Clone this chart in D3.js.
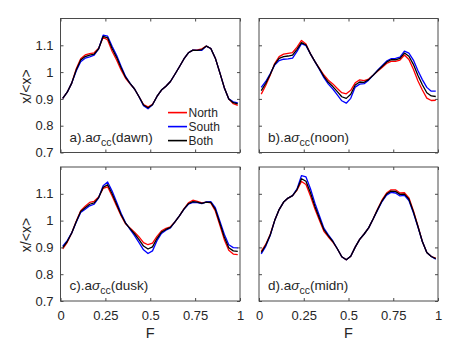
<!DOCTYPE html>
<html><head><meta charset="utf-8">
<script src="https://cdn.jsdelivr.net/npm/d3@7"></script>
<style>
html,body{margin:0;padding:0;background:#fff;}
svg text{font-family:"Liberation Sans",Arial,sans-serif;fill:#262626;}
</style></head>
<body><svg id="c" width="474" height="356"></svg>
<script>
const F = [0.0125,0.0375,0.0625,0.0875,0.1125,0.1375,0.1625,0.1875,0.2125,0.2375,
0.2625,0.2875,0.3125,0.3375,0.3625,0.3875,0.4125,0.4375,0.4625,0.4875,
0.5125,0.5375,0.5625,0.5875,0.6125,0.6375,0.6625,0.6875,0.7125,0.7375,
0.7625,0.7875,0.8125,0.8375,0.8625,0.8875,0.9125,0.9375,0.9625,0.9875];

const panelLabels = ["a).a","b).a","c).a","d).a"];
const panelTimes = ["(dawn)","(noon)","(dusk)","(midn)"];
const seriesNames = ["North","South","Both"];
const xTicks = [0,0.25,0.5,0.75,1];
const xTickLabels = ["0","0.25","0.5","0.75","1"];
const yTicks = [0.7,0.8,0.9,1.0,1.1];
const yTickLabels = ["0.7","0.8","0.9","1","1.1"];

const northA = [0.902,0.925,0.959,1.012,1.050,1.064,1.069,1.072,1.089,1.130,1.120,1.078,1.045,1.008,0.977,0.956,0.937,0.908,0.879,0.870,0.880,0.909,0.933,0.947,0.965,0.992,1.020,1.049,1.072,1.082,1.083,1.087,1.097,1.088,1.052,0.998,0.942,0.900,0.882,0.876];
const southA = [0.902,0.925,0.959,1.004,1.039,1.052,1.057,1.063,1.087,1.138,1.134,1.096,1.063,1.022,0.984,0.958,0.937,0.908,0.875,0.863,0.878,0.909,0.933,0.947,0.965,0.992,1.020,1.049,1.072,1.082,1.081,1.081,1.097,1.088,1.052,0.998,0.942,0.900,0.889,0.885];
const bothA  = [0.902,0.925,0.959,1.008,1.045,1.058,1.063,1.067,1.087,1.133,1.128,1.088,1.055,1.016,0.981,0.958,0.937,0.908,0.877,0.867,0.878,0.909,0.933,0.947,0.965,0.992,1.020,1.049,1.072,1.082,1.081,1.084,1.097,1.088,1.052,0.998,0.942,0.900,0.886,0.881];

const northB = [0.918,0.950,0.988,1.032,1.058,1.067,1.070,1.073,1.093,1.118,1.105,1.068,1.039,1.014,0.989,0.970,0.956,0.939,0.923,0.919,0.932,0.960,0.971,0.968,0.974,0.988,1.003,1.017,1.032,1.040,1.040,1.045,1.064,1.047,1.011,0.968,0.933,0.903,0.894,0.895];
const southB = [0.943,0.965,0.994,1.026,1.043,1.048,1.049,1.052,1.077,1.106,1.099,1.068,1.039,1.010,0.979,0.955,0.937,0.915,0.893,0.884,0.902,0.944,0.955,0.957,0.970,0.988,1.007,1.024,1.041,1.050,1.051,1.056,1.078,1.071,1.045,1.006,0.972,0.943,0.929,0.929];
const bothB  = [0.931,0.958,0.991,1.029,1.051,1.058,1.060,1.063,1.085,1.110,1.101,1.068,1.039,1.012,0.984,0.962,0.946,0.927,0.908,0.902,0.917,0.952,0.963,0.962,0.972,0.988,1.005,1.021,1.037,1.046,1.046,1.051,1.071,1.059,1.029,0.988,0.953,0.923,0.911,0.909];

const northC = [0.894,0.919,0.954,0.998,1.037,1.054,1.068,1.072,1.088,1.120,1.126,1.092,1.055,1.018,0.988,0.972,0.957,0.939,0.918,0.910,0.916,0.941,0.962,0.971,0.977,0.995,1.018,1.044,1.066,1.076,1.072,1.066,1.069,1.066,1.036,0.983,0.929,0.889,0.875,0.873];
const southC = [0.905,0.925,0.954,0.994,1.030,1.042,1.055,1.061,1.085,1.130,1.144,1.110,1.069,1.027,0.992,0.967,0.944,0.918,0.891,0.877,0.887,0.925,0.952,0.964,0.973,0.995,1.018,1.042,1.061,1.068,1.067,1.063,1.070,1.071,1.048,0.999,0.949,0.910,0.899,0.898];
const bothC  = [0.899,0.922,0.954,0.996,1.034,1.048,1.061,1.066,1.086,1.124,1.134,1.100,1.061,1.022,0.990,0.970,0.951,0.929,0.905,0.894,0.902,0.933,0.957,0.967,0.975,0.995,1.018,1.043,1.063,1.071,1.069,1.064,1.069,1.068,1.042,0.991,0.939,0.899,0.887,0.885];

const northD = [0.885,0.911,0.948,1.000,1.041,1.069,1.084,1.093,1.114,1.146,1.135,1.092,1.043,1.001,0.960,0.939,0.920,0.895,0.865,0.854,0.867,0.901,0.930,0.950,0.973,1.006,1.043,1.077,1.103,1.115,1.115,1.103,1.104,1.085,1.037,0.981,0.922,0.881,0.866,0.860];
const southD = [0.876,0.904,0.944,1.000,1.041,1.069,1.084,1.093,1.118,1.168,1.163,1.119,1.065,1.018,0.972,0.947,0.924,0.895,0.865,0.854,0.867,0.901,0.930,0.950,0.973,1.006,1.039,1.071,1.095,1.105,1.103,1.092,1.094,1.075,1.029,0.977,0.922,0.881,0.866,0.856];
const bothD  = [0.881,0.908,0.946,1.000,1.041,1.069,1.084,1.093,1.116,1.156,1.147,1.104,1.053,1.009,0.966,0.943,0.922,0.895,0.865,0.854,0.867,0.901,0.930,0.950,0.973,1.006,1.041,1.074,1.099,1.110,1.109,1.098,1.099,1.080,1.033,0.979,0.922,0.881,0.866,0.858];

const panelData = [
  [northA, southA, bothA],
  [northB, southB, bothB],
  [northC, southC, bothC],
  [northD, southD, bothD]
];

const colors = ["#ff0000","#0000ff","#000000"];
const svg = d3.select("#c");
const boxes = [
  {l:60.5, r:240, t:18.5, b:152.5, col:0, row:0},
  {l:259, r:438, t:18.5, b:152.5, col:1, row:0},
  {l:60.5, r:240, t:167, b:301, col:0, row:1},
  {l:259, r:438, t:167, b:301, col:1, row:1}
];
const axisCol = "#4a4a4a";

boxes.forEach((bx, i) => {
  const x = d3.scaleLinear().domain([0,1]).range([bx.l, bx.r]);
  const y = d3.scaleLinear().domain([0.7,1.2]).range([bx.b, bx.t]);
  const g = svg.append("g");

  g.append("clipPath").attr("id","clip"+i).append("rect")
    .attr("x",bx.l).attr("y",bx.t).attr("width",bx.r-bx.l).attr("height",bx.b-bx.t);

  const line = d3.line().x((d,j)=>x(F[j])).y(d=>y(d));
  const lg = g.append("g").attr("clip-path","url(#clip"+i+")");
  panelData[i].forEach((s, k) => {
    lg.append("path").datum(s).attr("d", line)
      .attr("fill","none").attr("stroke", colors[k]).attr("stroke-width",1.3)
      .attr("stroke-linejoin","round");
  });

  const bottom = d3.axisBottom(x).tickValues(xTicks).tickSize(-3).tickSizeOuter(0).tickPadding(10)
    .tickFormat((d,j)=> bx.row===1 ? xTickLabels[j] : "");
  const top = d3.axisTop(x).tickValues(xTicks).tickSize(-3).tickSizeOuter(0).tickFormat("");
  const left = d3.axisLeft(y).tickValues(yTicks).tickSize(-3).tickSizeOuter(0).tickPadding(7)
    .tickFormat((d,j)=> bx.col===0 ? yTickLabels[j] : "");
  const right = d3.axisRight(y).tickValues(yTicks).tickSize(-3).tickSizeOuter(0).tickFormat("");

  [[bottom,`translate(0,${bx.b})`],[top,`translate(0,${bx.t})`],[left,`translate(${bx.l},0)`],[right,`translate(${bx.r},0)`]]
    .forEach(([ax,tr]) => {
      const a = g.append("g").attr("transform",tr).call(ax);
      a.select(".domain").remove();
      a.selectAll("line").attr("stroke",axisCol);
      a.selectAll("text").attr("font-size","13px").attr("fill","#262626")
        .attr("font-family","Liberation Sans, Arial, sans-serif");
    });

  g.append("rect").attr("x",bx.l).attr("y",bx.t).attr("width",bx.r-bx.l).attr("height",bx.b-bx.t)
    .attr("fill","none").attr("stroke",axisCol).attr("stroke-width",1);

  const t = g.append("text").attr("x", bx.l + 9).attr("y", bx.b - 11).attr("font-size","13.5px");
  t.append("tspan").text(panelLabels[i]);
  t.append("tspan").attr("font-style","italic").text("σ");
  t.append("tspan").attr("font-size","10.5px").attr("dy","4").text("cc");
  t.append("tspan").attr("dy","-4").text(panelTimes[i]);

  if (bx.col===0) {
    g.append("text").attr("transform",`translate(31,${(bx.t+bx.b)/2+1}) rotate(-90)`)
      .attr("text-anchor","middle").attr("font-size","14px").text("x/<x>");
  }
  if (bx.row===1) {
    g.append("text").attr("x",(bx.l+bx.r)/2).attr("y",338).attr("text-anchor","middle")
      .attr("font-size","14.5px").text("F");
  }
  if (i===0) {
    const leg = g.append("g");
    seriesNames.forEach((n,k) => {
      const yy = 112.6 + k*14;
      leg.append("line").attr("x1",168).attr("x2",187).attr("y1",yy).attr("y2",yy)
        .attr("stroke",colors[k]).attr("stroke-width",1.6);
      leg.append("text").attr("x",188.5).attr("y",yy).attr("dy","0.35em")
        .attr("font-size","12px").text(n);
    });
  }
});
</script></body></html>
